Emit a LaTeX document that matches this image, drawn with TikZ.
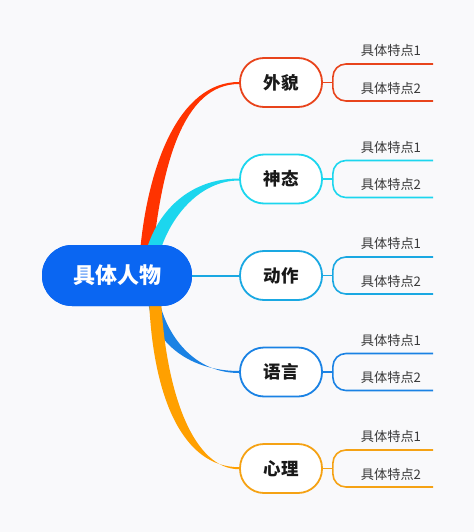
\documentclass[tikz,border=0pt]{standalone}
\usepackage{fontspec}
\newfontfamily\cjk{Noto Sans CJK SC}
\usetikzlibrary{calc}
\definecolor{bgc}{HTML}{F9F9FB}
\definecolor{hubc}{HTML}{0A66F2}
\definecolor{cA}{HTML}{E8441C}
\definecolor{cAc}{HTML}{FF3300}
\definecolor{cB}{HTML}{1CD6EE}
\definecolor{cC}{HTML}{1AA8E2}
\definecolor{cD}{HTML}{1A82E4}
\definecolor{cE}{HTML}{F5A214}
\definecolor{cEc}{HTML}{FFA000}
\definecolor{txtc}{HTML}{3A3A3A}
\tikzset{
  hubbox/.style={fill=hubc, text=white, font=\cjk\bfseries\fontsize{22}{24}\selectfont,
    minimum width=150pt, minimum height=61pt, rounded corners=30pt, inner sep=0pt},
  branchbox/.style={draw=#1, fill=white, line width=1.8pt, text=black!90,
    font=\cjk\bfseries\fontsize{17.5}{19}\selectfont,
    minimum width=82pt, minimum height=49pt, rounded corners=24pt, inner sep=0pt},
  leafline/.style={draw=#1, line width=1.6pt},
  leaftext/.style={text=txtc, font=\cjk\fontsize{13.2}{15}\selectfont, inner sep=0pt}
}
\begin{document}
\begin{tikzpicture}[x=1pt,y=-1pt]
\fill[bgc] (0,0) rectangle (474,532);
\useasboundingbox (0,0) rectangle (474,532);
% branch nodes and leaves
\foreach \n/\y/\col/\txt in {a/82.5/cA/外貌, b/179/cB/神态, c/275.5/cC/动作, d/372/cD/语言, e/468.5/cE/心理}{
  \node[branchbox=\col] (\n) at (281,\y) {\txt};
  \coordinate (\n1) at (433,\y-18.5);
  \coordinate (\n2) at (433,\y+18.5);
  \draw[leafline=\col] (\n.east) -- ++(10,0) coordinate (\n s);
  \draw[leafline=\col, rounded corners=13pt] (\n s) |- (\n1);
  \draw[leafline=\col, rounded corners=13pt] (\n s) |- (\n2);
  \node[leaftext] (\n t1) at (391,\y-32) {具体特点1};
  \node[leaftext] (\n t2) at (391,\y+5.5) {具体特点2};
}
\node[hubbox] (hub) at (117,275.5) {\phantom{具体人物}};
% tapered main connectors (hub.north = (117,245), hub.south = (117,306))
\fill[cAc] ($(hub.north)+(23,7)$) .. controls ($(hub.north)+(31,-80)$) and ($(a.west)+(-60,-0.5)$) .. ($(a.west)+(0,-0.5)$)
  -- ($(a.west)+(0,1.5)$) .. controls ($(a.west)+(-57,1.5)$) and ($(hub.north)+(45,-77)$) .. ($(hub.north)+(36,7)$) -- cycle;
\fill[cB] ($(hub.north)+(29,7)$) .. controls ($(hub.north)+(40,-33)$) and ($(b.west)+(-50,-0.5)$) .. ($(b.west)+(0,-0.5)$)
  -- ($(b.west)+(0,1.5)$) .. controls ($(b.west)+(-40,1.5)$) and ($(hub.north)+(53,-27)$) .. ($(hub.north)+(43,7)$) -- cycle;
\fill[cD] ($(hub.south)+(31,-7)$) .. controls ($(hub.south)+(34,34)$) and ($(d.west)+(-52,-1)$) .. ($(d.west)+(0,-1)$)
  -- ($(d.west)+(0,1)$) .. controls ($(d.west)+(-45,1)$) and ($(hub.south)+(49,29)$) .. ($(hub.south)+(42,-7)$) -- cycle;
\fill[cEc] ($(hub.south)+(32,-7)$) .. controls ($(hub.south)+(36,94)$) and ($(e.west)+(-55,-1.3)$) .. ($(e.west)+(0,-1.3)$)
  -- ($(e.west)+(0,0.7)$) .. controls ($(e.west)+(-45,0.7)$) and ($(hub.south)+(49,89)$) .. ($(hub.south)+(44,-7)$) -- cycle;
\draw[cC, line width=2pt] (hub.east) -- (c.west);
\node[hubbox] (hubtop) at (hub) {具体人物};
\end{tikzpicture}
\end{document}
